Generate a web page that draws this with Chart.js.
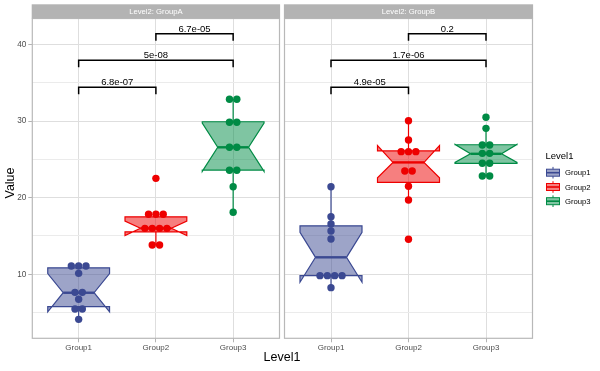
<!DOCTYPE html>
<html>
<head>
<meta charset="utf-8">
<script src="https://cdn.jsdelivr.net/npm/chart.js@4.4.0/dist/chart.umd.min.js"></script>
<style>
  body { margin: 0; background: #fff; }
  #wrap { position: relative; width: 600px; height: 371px; }
  #wrap canvas { position: absolute; left: 0; top: 0; }
</style>
</head>
<body>
<div id="wrap">
  <canvas id="panelA" width="600" height="371"></canvas>
  <canvas id="panelB" width="600" height="371"></canvas>
</div>
<script>
// categories / facets
const categories = ['Group1', 'Group2', 'Group3'];
const facetLabels = ['Level2: GroupA', 'Level2: GroupB'];
const yTicks = [5, 10, 15, 20, 25, 30, 35, 40];

// dotplot values (stacked dots share a value)
const dotsA1 = [11.09, 11.09, 11.09, 10.13, 7.65, 7.65, 6.74, 5.48, 5.48, 4.13];
const dotsA2 = [22.52, 17.83, 17.83, 17.83, 16.0, 16.0, 16.0, 16.0, 13.83, 13.83];
const dotsA3 = [32.83, 32.83, 29.83, 29.83, 26.57, 26.57, 23.57, 23.57, 21.43, 18.09];
const dotsB1 = [21.43, 17.52, 16.56, 15.65, 14.61, 9.83, 9.83, 9.83, 9.83, 8.26];
const dotsB2 = [30.04, 27.52, 26.0, 26.0, 26.0, 23.48, 23.48, 21.48, 19.7, 14.57];
const dotsB3 = [30.48, 29.04, 26.87, 26.87, 25.78, 25.78, 24.48, 24.48, 22.83, 22.83];

// notched boxplot stats per group (Group1..3)
const lowA = [4.13, 13.83, 18.09];
const q1A = [5.80, 15.55, 23.6];
const medA = [7.6, 16.0, 26.57];
const q3A = [10.85, 17.5, 29.9];
const highA = [11.09, 17.83, 32.83];
const notchLoA = [5.1, 15.05, 23.42];
const notchHiA = [10.1, 16.95, 29.72];

const lowB = [8.26, 19.7, 22.83];
const q1B = [9.83, 22.0, 24.48];
const medB = [12.22, 24.6, 25.72];
const q3B = [16.33, 26.1, 26.9];
const highB = [21.43, 30.04, 29.04];
const notchLoB = [8.97, 22.6, 24.6];
const notchHiB = [15.47, 26.8, 26.95];

// significance brackets
const bracketPairs = [[1, 2], [1, 3], [2, 3]];
const bracketY = [34.39, 37.92, 41.39];
const pLabelsA = ['6.8e-07', '5e-08', '6.7e-05'];
const pLabelsB = ['4.9e-05', '1.7e-06', '0.2'];

const colores = ['#3B4992', '#EE0000', '#008B45'];
const rellenos = ['rgba(59,73,146,0.5)', 'rgba(238,0,0,0.5)', 'rgba(0,139,69,0.5)'];
const FONT = '"Liberation Sans", Arial, sans-serif';
const dotStep = 0.095;

const paneles = [
    { id: 'panelA', dots: [dotsA1, dotsA2, dotsA3], low: lowA, q1: q1A, med: medA, q3: q3A, high: highA,
      nLo: notchLoA, nHi: notchHiA, pLabels: pLabelsA, padL: 0, padR: 320.5, yWidth: 32.3 },
    { id: 'panelB', dots: [dotsB1, dotsB2, dotsB3], low: lowB, q1: q1B, med: medB, q3: q3B, high: highB,
      nLo: notchLoB, nHi: notchHiB, pLabels: pLabelsB, padL: 282, padR: 67.5, yWidth: 2.5 }
];

function apilar(vals, gx) {
    const cuenta = {};
    vals.forEach(v => (cuenta[v] = (cuenta[v] || 0) + 1));
    const vistos = {};
    return vals.map(v => {
        const k = vistos[v] || 0;
        vistos[v] = k + 1;
        return { x: gx + (k - (cuenta[v] - 1) / 2) * dotStep, y: v };
    });
}

function decoPlugin(p, idx) {
    return {
        id: 'deco' + idx,
        beforeDatasetsDraw(chart) {
            const ctx = chart.ctx, xs = chart.scales.x, ys = chart.scales.y;
            const X = v => xs.getPixelForValue(v), Y = v => ys.getPixelForValue(v);
            ctx.save();
            for (let i = 0; i < 3; i++) {
                const g = i + 1;
                const xl = X(g - 0.4), xr = X(g + 0.4), il = X(g - 0.2), ir = X(g + 0.2);
                ctx.strokeStyle = colores[i];
                ctx.lineWidth = 1.2;
                // whiskers
                ctx.beginPath();
                ctx.moveTo(X(g), Y(p.q3[i])); ctx.lineTo(X(g), Y(p.high[i]));
                ctx.moveTo(X(g), Y(p.q1[i])); ctx.lineTo(X(g), Y(p.low[i]));
                ctx.stroke();
                // notched box
                ctx.beginPath();
                ctx.moveTo(xl, Y(p.q3[i]));
                ctx.lineTo(xl, Y(p.nHi[i]));
                ctx.lineTo(il, Y(p.med[i]));
                ctx.lineTo(xl, Y(p.nLo[i]));
                ctx.lineTo(xl, Y(p.q1[i]));
                ctx.lineTo(xr, Y(p.q1[i]));
                ctx.lineTo(xr, Y(p.nLo[i]));
                ctx.lineTo(ir, Y(p.med[i]));
                ctx.lineTo(xr, Y(p.nHi[i]));
                ctx.lineTo(xr, Y(p.q3[i]));
                ctx.closePath();
                ctx.fillStyle = rellenos[i];
                ctx.fill();
                ctx.stroke();
                // median
                ctx.lineWidth = 2.4;
                ctx.beginPath();
                ctx.moveTo(il, Y(p.med[i])); ctx.lineTo(ir, Y(p.med[i]));
                ctx.stroke();
            }
            ctx.restore();
        },
        afterDatasetsDraw(chart) {
            const ctx = chart.ctx, xs = chart.scales.x, ys = chart.scales.y;
            const X = v => xs.getPixelForValue(v), Y = v => ys.getPixelForValue(v);
            ctx.save();
            ctx.strokeStyle = '#000';
            ctx.fillStyle = '#000';
            ctx.lineWidth = 1.5;
            ctx.font = '9.5px ' + FONT;
            ctx.textAlign = 'center';
            ctx.textBaseline = 'alphabetic';
            bracketPairs.forEach((par, j) => {
                const x1 = X(par[0]), x2 = X(par[1]), yl = Y(bracketY[j]), yt = Y(bracketY[j] - 0.91);
                ctx.beginPath();
                ctx.moveTo(x1, yt); ctx.lineTo(x1, yl); ctx.lineTo(x2, yl); ctx.lineTo(x2, yt);
                ctx.stroke();
                ctx.fillText(p.pLabels[j], (x1 + x2) / 2, yl - 2);
            });
            ctx.restore();
        },
        afterDraw(chart) {
            const ctx = chart.ctx, a = chart.chartArea;
            ctx.save();
            // panel border
            ctx.strokeStyle = '#b8b8b8';
            ctx.lineWidth = 1.2;
            ctx.strokeRect(a.left, a.top, a.right - a.left, a.bottom - a.top);
            // strip
            ctx.fillStyle = '#b3b3b3';
            ctx.fillRect(a.left - 0.6, 4.3, a.right - a.left + 1.2, a.top - 4.3);
            ctx.fillStyle = '#ffffff';
            ctx.font = '7.7px ' + FONT;
            ctx.textAlign = 'center';
            ctx.textBaseline = 'middle';
            ctx.fillText(facetLabels[idx], (a.left + a.right) / 2, (4.3 + a.top) / 2 + 0.5);

            ctx.fillStyle = '#000';
            if (idx === 0) {
                ctx.font = '12.5px ' + FONT;
                ctx.translate(10.5, 183);
                ctx.rotate(-Math.PI / 2);
                ctx.fillText('Value', 0, 0);
            } else {
                ctx.font = '12.5px ' + FONT;
                ctx.fillText('Level1', 282, 357.5);
                // legend
                ctx.textAlign = 'left';
                ctx.font = '9.5px ' + FONT;
                ctx.fillText('Level1', 545.5, 156.5);
                const filas = [172.7, 187.0, 201.2];
                filas.forEach((cy, i) => {
                    const cx = 553;
                    ctx.strokeStyle = colores[i];
                    ctx.lineWidth = 1;
                    ctx.beginPath();
                    ctx.moveTo(cx, cy - 5.8); ctx.lineTo(cx, cy - 3.5);
                    ctx.moveTo(cx, cy + 3.5); ctx.lineTo(cx, cy + 5.8);
                    ctx.stroke();
                    ctx.fillStyle = rellenos[i];
                    ctx.fillRect(546.5, cy - 3.5, 13, 7);
                    ctx.strokeRect(546.5, cy - 3.5, 13, 7);
                    ctx.lineWidth = 1.6;
                    ctx.beginPath();
                    ctx.moveTo(546.5, cy); ctx.lineTo(559.5, cy);
                    ctx.stroke();
                    ctx.fillStyle = '#000';
                    ctx.font = '7.7px ' + FONT;
                    ctx.fillText(categories[i], 565, cy + 0.5);
                });
            }
            ctx.restore();
        }
    };
}

paneles.forEach((p, idx) => {
    const ctx = document.getElementById(p.id).getContext('2d');
    new Chart(ctx, {
        type: 'scatter',
        data: {
            datasets: categories.map((c, i) => ({
                label: c,
                data: apilar(p.dots[i], i + 1),
                backgroundColor: colores[i],
                borderColor: colores[i],
                borderWidth: 0,
                pointRadius: 3.7,
                pointHoverRadius: 3.7
            }))
        },
        options: {
            responsive: false,
            animation: false,
            devicePixelRatio: 1,
            events: [],
            layout: { padding: { top: 18.5, left: p.padL, right: p.padR, bottom: 0 } },
            plugins: { legend: { display: false }, tooltip: { enabled: false } },
            scales: {
                x: {
                    type: 'linear', min: 0.4, max: 3.6,
                    afterBuildTicks: s => { s.ticks = [1, 2, 3].map(v => ({ value: v })); },
                    afterFit: s => { s.height = 32.7; },
                    ticks: {
                        callback: v => categories[v - 1],
                        color: '#4d4d4d', font: { size: 8, family: FONT },
                        padding: 1, maxRotation: 0, autoSkip: false
                    },
                    grid: { color: '#dedede', lineWidth: 1, tickLength: 4, tickColor: '#b3b3b3', tickWidth: 1 },
                    border: { display: false }
                },
                y: {
                    type: 'linear', min: 1.656, max: 43.37,
                    afterBuildTicks: s => { s.ticks = yTicks.map(v => ({ value: v })); },
                    afterFit: s => { s.width = p.yWidth; },
                    ticks: {
                        display: idx === 0,
                        callback: v => (v % 10 === 0 ? String(v) : ''),
                        color: '#4d4d4d', font: { size: 8.2, family: FONT }, padding: 2
                    },
                    grid: {
                        color: c => (c.tick && c.tick.value % 10 === 0 ? '#dedede' : '#ebebeb'),
                        lineWidth: 1,
                        drawTicks: idx === 0,
                        tickLength: 4,
                        tickColor: c => (c.tick && c.tick.value % 10 === 0 ? '#b3b3b3' : 'rgba(0,0,0,0)'),
                        tickWidth: 1
                    },
                    border: { display: false }
                }
            }
        },
        plugins: [decoPlugin(p, idx)]
    });
});
</script>
</body>
</html>
